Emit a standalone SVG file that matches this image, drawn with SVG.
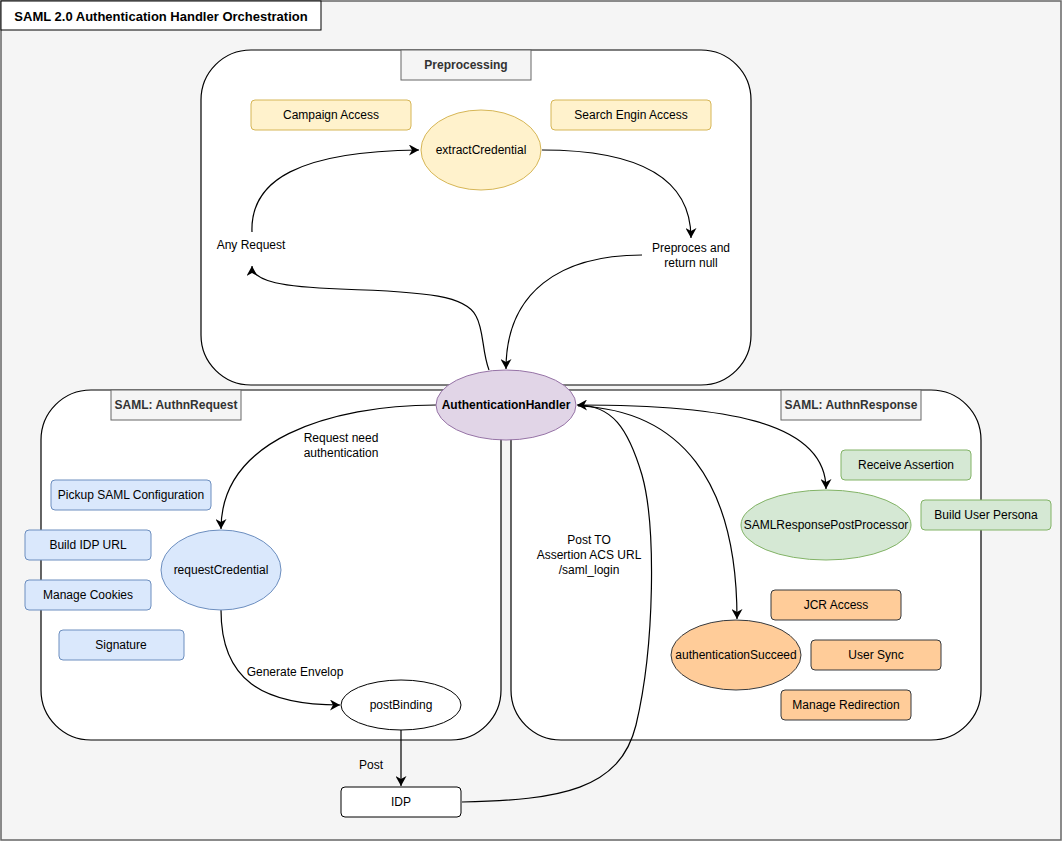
<svg xmlns="http://www.w3.org/2000/svg" width="1062" height="841" viewBox="0 0 1062 841">
<style>
text{font-family:"Liberation Sans",Arial,sans-serif;font-size:12px;fill:#000;text-anchor:middle;dominant-baseline:central}
.b{font-weight:bold}
.t{font-weight:bold;font-size:13px}
.lbl{font-weight:bold;fill:#333}
.cont{fill:#fff;stroke:#000;stroke-width:1.2}
.lbox{fill:#f5f5f5;stroke:#666;stroke-width:1}
.yel{fill:#fff2cc;stroke:#d6b656}
.blu{fill:#dae8fc;stroke:#6c8ebf}
.grn{fill:#d5e8d4;stroke:#82b366}
.org{fill:#ffcc99;stroke:#36393d}
.pur{fill:#e1d5e7;stroke:#9673a6}
.wht{fill:#fff;stroke:#000}
.edge{fill:none;stroke:#000;stroke-width:1.2}
.arr{fill:none;stroke:#000;stroke-width:1.2;marker-end:url(#ah)}
</style>
<defs>
<marker id="ah" markerUnits="userSpaceOnUse" markerWidth="11" markerHeight="11" refX="10" refY="5.5" orient="auto">
<path d="M0,0 L10,5.5 L0,11 L3,5.5 z" fill="#000"/>
</marker>
</defs>
<rect x="1" y="1" width="1060" height="839" fill="#f5f5f5" stroke="#666" stroke-width="1.5"/>
<g id="title">
<rect x="1" y="1" width="320" height="29" fill="#fff" stroke="#000"/>
<text x="161" y="16" class="t">SAML 2.0 Authentication Handler Orchestration</text>
</g>
<g id="containers">
<g id="preprocessing">
<rect x="201" y="50" width="550" height="335" rx="50" class="cont"/>
<rect x="401" y="50" width="130" height="30" class="lbox"/>
<text x="466" y="65" class="lbl">Preprocessing</text>
</g>
<g id="authnRequest">
<rect x="41" y="390" width="460" height="350" rx="50" class="cont"/>
<rect x="111" y="390" width="130" height="30" class="lbox"/>
<text x="176" y="405" class="lbl">SAML: AuthnRequest</text>
</g>
<g id="authnResponse">
<rect x="511" y="390" width="470" height="350" rx="50" class="cont"/>
<rect x="781" y="390" width="140" height="30" class="lbox"/>
<text x="851" y="405" class="lbl">SAML: AuthnResponse</text>
</g>
</g>
<g id="connectors">
<path class="arr" d="M489 370 C482 352 484 330 476 316 C466 296 430 292 340 289 C285 287 252 282 252 266"/>
<path class="arr" d="M252 232 C250 180 300 151 419 150"/>
<path class="arr" d="M542 150 C620 150 691 168 691 238"/>
<path class="arr" d="M642 255 C560 255 506 292 506 369"/>
<path class="arr" d="M436 405 C330 405 221 440 221 529"/>
<path class="arr" d="M221 610 C221 680 262 705 340 705"/>
<path class="arr" d="M401 730 L401 786"/>
<path class="arr" d="M462 802 C560 800 620 790 636 725 C655 645 656 525 642 475 C628 428 612 405 577 405"/>
<path class="arr" d="M578 405 C720 405 826 420 826 489"/>
<path class="arr" d="M578 406 C680 410 737 480 737 619"/>
<text x="251" y="245">Any Request</text>
<text x="691" y="248">Preproces and</text>
<text x="691" y="263">return null</text>
<text x="341" y="438">Request need</text>
<text x="341" y="453">authentication</text>
<text x="295" y="672">Generate Envelop</text>
<text x="371" y="765">Post</text>
<text x="589" y="540">Post TO</text>
<text x="589" y="555">Assertion ACS URL</text>
<text x="589" y="570">/saml_login</text>
</g>
<g id="campaignAccess"><rect x="251" y="100" width="160" height="30" rx="4" class="yel"/><text x="331" y="115">Campaign Access</text></g>
<g id="searchEnginAccess"><rect x="551" y="100" width="160" height="30" rx="4" class="yel"/><text x="631" y="115">Search Engin Access</text></g>
<g id="extractCredential"><ellipse cx="481" cy="150" rx="60" ry="40" class="yel"/><text x="481" y="150">extractCredential</text></g>
<g id="authenticationHandler"><ellipse cx="506" cy="405" rx="70" ry="35" class="pur"/><text x="506" y="405" class="b">AuthenticationHandler</text></g>
<g id="pickupSaml"><rect x="51" y="480" width="160" height="30" rx="4" class="blu"/><text x="131" y="495">Pickup SAML Configuration</text></g>
<g id="buildIdpUrl"><rect x="25" y="530" width="126" height="30" rx="4" class="blu"/><text x="88" y="545">Build IDP URL</text></g>
<g id="manageCookies"><rect x="25" y="580" width="126" height="30" rx="4" class="blu"/><text x="88" y="595">Manage Cookies</text></g>
<g id="signature"><rect x="59" y="630" width="125" height="30" rx="4" class="blu"/><text x="121" y="645">Signature</text></g>
<g id="requestCredential"><ellipse cx="221" cy="570" rx="60" ry="40" class="blu"/><text x="221" y="570">requestCredential</text></g>
<g id="postBinding"><ellipse cx="401" cy="705" rx="60" ry="25" class="wht"/><text x="401" y="705">postBinding</text></g>
<g id="idp"><rect x="341" y="787" width="120" height="30" rx="4" class="wht"/><text x="401" y="802">IDP</text></g>
<g id="receiveAssertion"><rect x="841" y="450" width="130" height="30" rx="4" class="grn"/><text x="906" y="465">Receive Assertion</text></g>
<g id="samlResponsePostProcessor"><ellipse cx="826" cy="525" rx="85" ry="35" class="grn"/><text x="826" y="525">SAMLResponsePostProcessor</text></g>
<g id="buildUserPersona"><rect x="921" y="500" width="130" height="30" rx="4" class="grn"/><text x="986" y="515">Build User Persona</text></g>
<g id="jcrAccess"><rect x="771" y="590" width="130" height="30" rx="4" class="org"/><text x="836" y="605">JCR Access</text></g>
<g id="userSync"><rect x="811" y="640" width="130" height="30" rx="4" class="org"/><text x="876" y="655">User Sync</text></g>
<g id="manageRedirection"><rect x="781" y="690" width="130" height="30" rx="4" class="org"/><text x="846" y="705">Manage Redirection</text></g>
<g id="authenticationSucceed"><ellipse cx="736" cy="655" rx="65" ry="35" class="org"/><text x="736" y="655">authenticationSucceed</text></g>
</svg>
